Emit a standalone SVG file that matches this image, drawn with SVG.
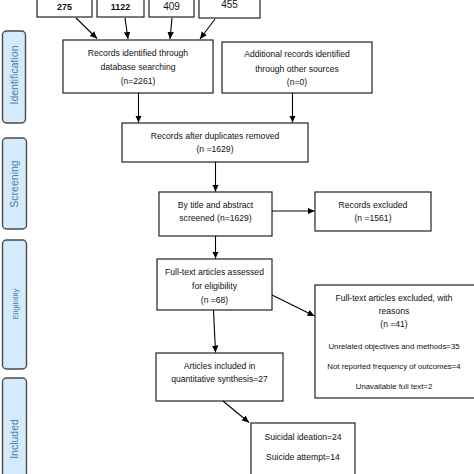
<svg xmlns="http://www.w3.org/2000/svg" width="474" height="474" viewBox="0 0 474 474">
<defs>
<marker id="ah" markerWidth="8" markerHeight="8" refX="7" refY="4" orient="auto" markerUnits="userSpaceOnUse">
<path d="M0,0.8 L7,4 L0,7.2 z" fill="#000"/>
</marker>
<style>
.box{fill:#fff;stroke:#222;stroke-width:1.2}
.t{font-family:"Liberation Sans",Arial,sans-serif;font-size:8.6px;fill:#111;text-anchor:middle}
.s{font-family:"Liberation Sans",Arial,sans-serif;font-size:7.8px;fill:#111;text-anchor:middle}
.num{font-family:"Liberation Sans",Arial,sans-serif;font-size:10px;fill:#111;text-anchor:middle}
.bar{fill:#d3ebfa;stroke:#4a4a4a;stroke-width:1.4}
.bt{font-family:"Liberation Sans",Arial,sans-serif;font-size:10.5px;fill:#4f7fb0;text-anchor:middle}
.c{fill:none;stroke:#000;stroke-width:1.1}
</style>
</defs>
<rect width="474" height="474" fill="#fff"/>

<g id="phase-identification"><rect class="bar" x="2.5" y="31" width="23" height="92" rx="4"/><text class="bt" transform="translate(18,75) rotate(-90)">Identification</text></g>
<g id="phase-screening"><rect class="bar" x="2.5" y="138" width="24" height="91" rx="4"/><text class="bt" transform="translate(18,184) rotate(-90)">Screening</text></g>
<g id="phase-eligibility"><rect class="bar" x="2.5" y="240" width="24" height="129" rx="4"/><text class="bt" style="font-size:8px" transform="translate(17.5,304) rotate(-90)">Eligibility</text></g>
<g id="phase-included"><rect class="bar" x="2.5" y="378" width="24" height="110" rx="4"/><text class="bt" transform="translate(18,439) rotate(-90)">Included</text></g>

<g id="src-275"><rect class="box" x="37" y="-10" width="55" height="27"/><text class="num" style="font-weight:bold;font-size:9px" x="64.5" y="10">275</text></g>
<g id="src-1122"><rect class="box" x="97" y="-10" width="47" height="27"/><text class="num" style="font-weight:bold;font-size:9px" x="120.5" y="10">1122</text></g>
<g id="src-409"><rect class="box" x="149" y="-10" width="45" height="27"/><text class="num" x="171.5" y="10">409</text></g>
<g id="src-455"><rect class="box" x="199" y="-10" width="61" height="28"/><text class="num" x="229.5" y="8">455</text></g>

<g id="records-identified"><rect class="box" x="63" y="40" width="150" height="53"/>
<text class="t" x="138" y="56">Records identified through</text>
<text class="t" x="138" y="70">database searching</text>
<text class="t" x="138" y="84">(n=2261)</text></g>

<g id="additional-records"><rect class="box" x="222" y="42" width="150" height="51"/>
<text class="t" x="297" y="57">Additional records identified</text>
<text class="t" x="297" y="72">through other sources</text>
<text class="t" x="297" y="85">(n=0)</text></g>

<g id="after-duplicates"><rect class="box" x="122" y="123" width="186" height="39"/>
<text class="t" x="215" y="139">Records after duplicates removed</text>
<text class="t" x="215" y="152">(n =1629)</text></g>

<g id="title-abstract"><rect class="box" x="159" y="192" width="113" height="44"/>
<text class="t" x="215.5" y="208">By title and abstract</text>
<text class="t" x="215.5" y="221">screened (n=1629)</text></g>

<g id="records-excluded"><rect class="box" x="315" y="192" width="116" height="39"/>
<text class="t" x="373" y="208">Records excluded</text>
<text class="t" x="373" y="221">(n =1561)</text></g>

<g id="fulltext-assessed"><rect class="box" x="157" y="259" width="115" height="51"/>
<text class="t" x="214.5" y="275">Full-text articles assessed</text>
<text class="t" x="214.5" y="289">for eligibility</text>
<text class="t" x="214.5" y="303">(n =68)</text></g>

<g id="fulltext-excluded"><rect class="box" x="315" y="285" width="160" height="113"/>
<text class="t" x="394" y="301">Full-text articles excluded, with</text>
<text class="t" x="394" y="314">reasons</text>
<text class="t" x="394" y="327">(n =41)</text>
<text class="s" x="394" y="349">Unrelated objectives and methods=35</text>
<text class="s" x="394" y="369">Not reported frequency of outcomes=4</text>
<text class="s" x="394" y="389">Unavailable full text=2</text></g>

<g id="included-synthesis"><rect class="box" x="156" y="353" width="127" height="48"/>
<text class="t" x="219.5" y="369">Articles included in</text>
<text class="t" x="219.5" y="382">quantitative synthesis=27</text></g>

<g id="outcomes"><rect class="box" x="251" y="423" width="104" height="60"/>
<text class="t" x="303" y="440">Suicidal ideation=24</text>
<text class="t" x="303" y="460">Suicide attempt=14</text></g>

<g id="connectors">
<line class="c" x1="76" y1="18" x2="97" y2="38.5" marker-end="url(#ah)"/>
<line class="c" x1="125" y1="18" x2="128" y2="39" marker-end="url(#ah)"/>
<line class="c" x1="172" y1="18" x2="170" y2="39" marker-end="url(#ah)"/>
<line class="c" x1="215" y1="19" x2="200" y2="39" marker-end="url(#ah)"/>
<line class="c" x1="138.5" y1="93" x2="138.5" y2="122.5" marker-end="url(#ah)"/>
<line class="c" x1="292.5" y1="93" x2="292.5" y2="122.5" marker-end="url(#ah)"/>
<line class="c" x1="215.5" y1="162" x2="215.5" y2="191.5" marker-end="url(#ah)"/>
<line class="c" x1="272" y1="211" x2="314.5" y2="211" marker-end="url(#ah)"/>
<line class="c" x1="215.5" y1="236" x2="215.5" y2="258.5" marker-end="url(#ah)"/>
<line class="c" x1="272" y1="295" x2="314.5" y2="316" marker-end="url(#ah)"/>
<line class="c" x1="213.5" y1="310" x2="215.5" y2="352.5" marker-end="url(#ah)"/>
<line class="c" x1="223" y1="401" x2="249" y2="422.5" marker-end="url(#ah)"/>
</g>
</svg>
